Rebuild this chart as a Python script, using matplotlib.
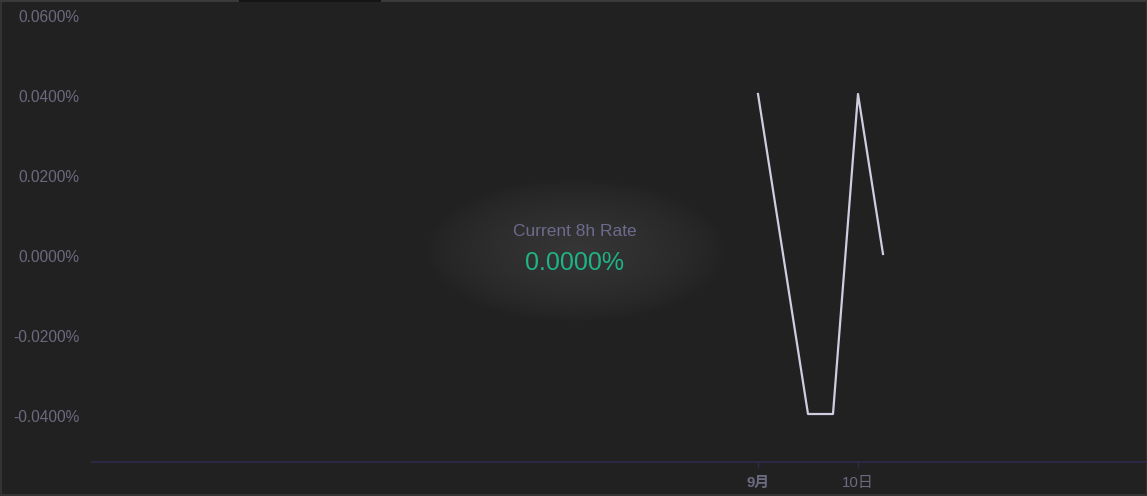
import matplotlib.pyplot as plt
import numpy as np

# funding rate history (hours from 9月 tick, rate in %)
hours = [0, 12, 18, 24, 30]
rates = [0.0405, -0.0395, -0.0395, 0.0405, 0.0005]
y_ticks = [-0.04, -0.02, 0.0, 0.02, 0.04, 0.06]
x_tick_pos = [0, 24]
x_tick_labels = ["9月", "10日"]
current_rate = 0.0

bg = "#212121"
label_col = "#6b6a80"

plt.rcParams["font.family"] = ["Liberation Sans", "Noto Sans CJK SC", "DejaVu Sans"]

W, H = 1147, 496
fig = plt.figure(figsize=(W / 100, H / 100), dpi=100, facecolor=bg)

# background with a soft glow behind the current-rate text
bg_ax = fig.add_axes([0, 0, 1, 1], zorder=0)
gx, gy = np.meshgrid(np.arange(W), np.arange(H))
d = np.sqrt(((gx - 575) / 150.0) ** 2 + ((gy - 250) / 72.0) ** 2)
glow = np.clip(1 - d, 0, 1) ** 0.7
base = np.array([0x21, 0x21, 0x21]) / 255
peak = np.array([0x36, 0x36, 0x36]) / 255
img = base + (peak - base) * glow[..., None]
bg_ax.imshow(img, extent=[0, W, H, 0], aspect="auto")
bg_ax.set_xlim(0, W)
bg_ax.set_ylim(H, 0)
bg_ax.axis("off")

# frame lines
bg_ax.plot([0.5, 0.5], [0, H], color="#333333", lw=1.5)
bg_ax.plot([0, W], [H - 1, H - 1], color="#333333", lw=1.5)
bg_ax.plot([0, W], [0.5, 0.5], color="#3a3a3a", lw=1.5)
bg_ax.plot([240, 380], [0.5, 0.5], color="#151515", lw=1.5)
bg_ax.plot([W - 0.5, W - 0.5], [0, H], color="#333333", lw=1.5)

ax = fig.add_axes([92 / W, (H - 462) / H, (W - 92) / W, 462 / H], zorder=1)
ax.patch.set_alpha(0)
ax.plot(hours, rates, color="#cfcde0", lw=1.6)

ax.set_xlim(-159.84, 93.36)
ax.set_ylim(-0.0515, 0.064)

ax.set_yticks(y_ticks)
ax.set_yticklabels([f"{v:.4f}%" for v in y_ticks])
ax.set_xticks(x_tick_pos)
ax.set_xticklabels(x_tick_labels)
ax.get_xticklabels()[0].set_fontweight("bold")

ax.tick_params(axis="y", length=0, colors=label_col, labelsize=11.2, pad=9)
ax.tick_params(axis="x", length=4, width=1, color="#2e2a4e", colors=label_col,
               labelsize=10.8, pad=6)
for lbl in ax.get_xticklabels():
    lbl.set_color(label_col)
ax.tick_params(axis="x", color="#2e2a4e")

for side in ["top", "right", "left"]:
    ax.spines[side].set_visible(False)
ax.spines["bottom"].set_color("#2e2a4e")
ax.spines["bottom"].set_linewidth(1.2)

fig.text(575 / W, 1 - 231 / H, "Current 8h Rate", color="#6c6b8c", fontsize=12.5,
         ha="center", va="center")
fig.text(574 / W, 1 - 263 / H, f"{current_rate:.4f}%", color="#1fb386", fontsize=18,
         ha="center", va="center")

fig.savefig("out.png", dpi=100, facecolor=bg)
